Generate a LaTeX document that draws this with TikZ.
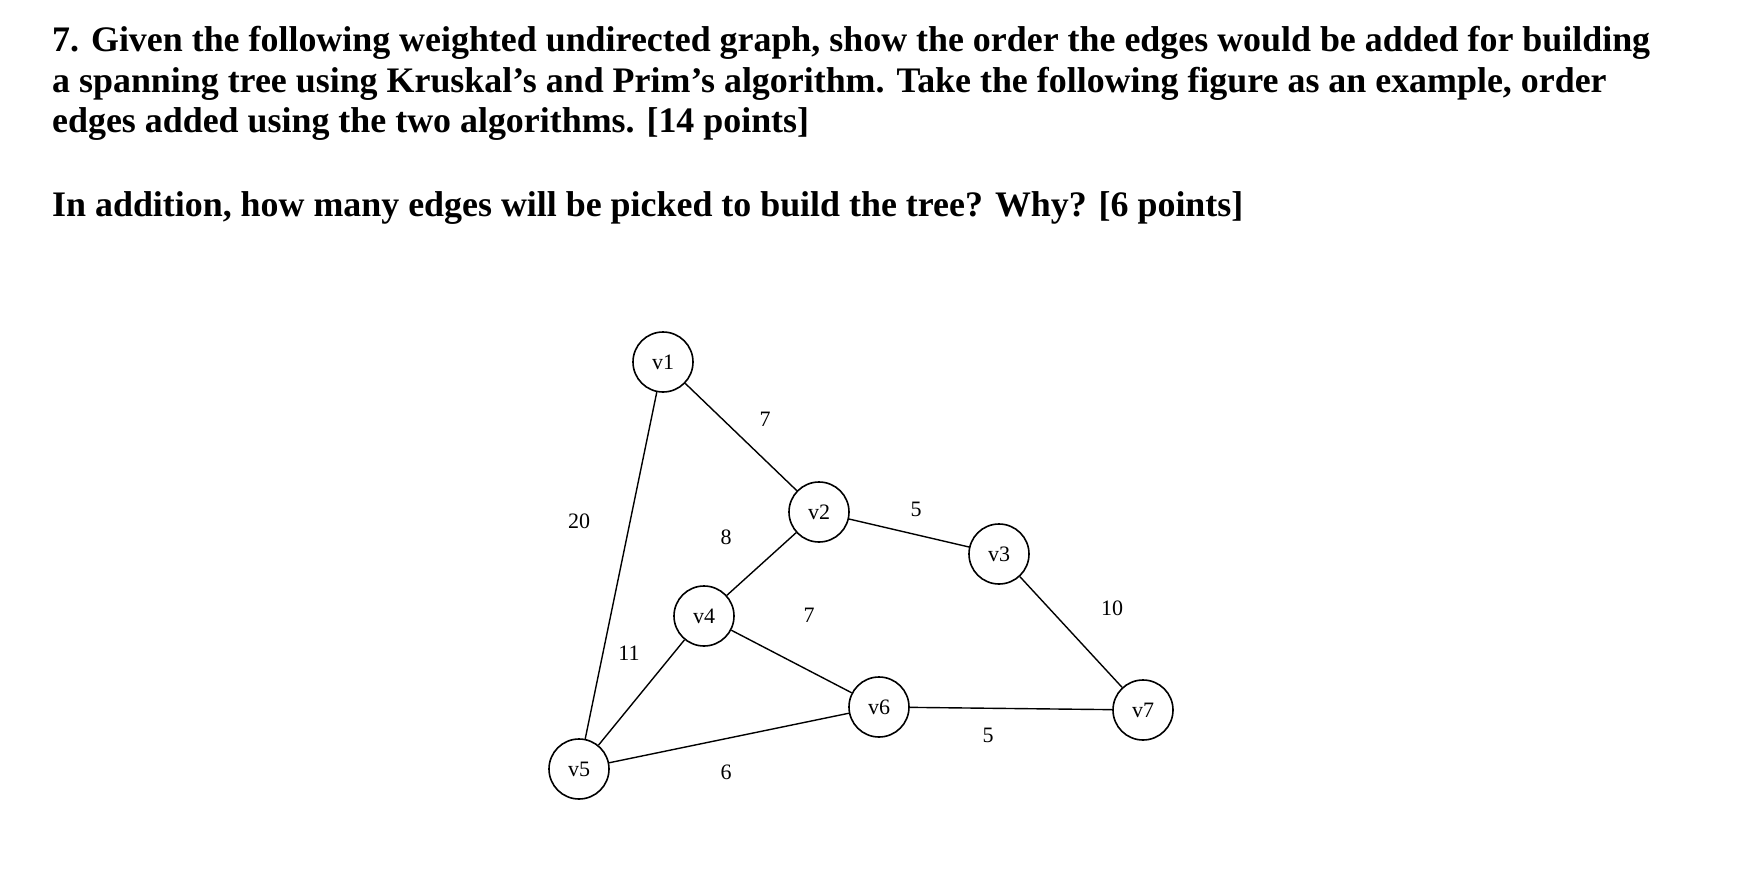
\documentclass[tikz,border=0pt]{standalone}
\usepackage{fontspec}
\setmainfont{Liberation Serif}
\begin{document}
\begin{tikzpicture}[x=1pt,y=-1pt,
  vtx/.style={circle,draw,line width=1.6pt,minimum size=60pt,inner sep=0pt,font=\fontsize{22}{24}\selectfont},
  wt/.style={font=\fontsize{22}{24}\selectfont},
  ttl/.style={anchor=west,inner sep=0pt,font=\bfseries\fontsize{35.9}{40}\selectfont},
  edge/.style={line width=1.4pt}]
\path[use as bounding box] (0,0) rectangle (1746,886);
\node[ttl] (t1) at (52,43) {7. Given the following weighted undirected graph, show the order the edges would be added for building};
\node[ttl] (t2) at (52,84) {a spanning tree using Kruskal’s and Prim’s algorithm. Take the following figure as an example, order};
\node[ttl] (t3) at (52,124) {edges added using the two algorithms. [14 points]};
\node[ttl] (t4) at (52,208) {In addition, how many edges will be picked to build the tree? Why? [6 points]};
\node[vtx] (v1) at (663,362) {v1};
\node[vtx] (v2) at (819,512) {v2};
\node[vtx] (v3) at (999,554) {v3};
\node[vtx] (v4) at (704,616) {v4};
\node[vtx] (v5) at (579,769) {v5};
\node[vtx] (v6) at (879,707) {v6};
\node[vtx] (v7) at (1143,710) {v7};
\draw[edge] (v1) -- (v2);
\draw[edge] (v1) -- (v5);
\draw[edge] (v2) -- (v3);
\draw[edge] (v2) -- (v4);
\draw[edge] (v3) -- (v7);
\draw[edge] (v4) -- (v5);
\draw[edge] (v4) -- (v6);
\draw[edge] (v5) -- (v6);
\draw[edge] (v6) -- (v7);
\node[wt] (w12) at (765,419) {7};
\node[wt] (w15) at (579,521) {20};
\node[wt] (w24) at (726,537) {8};
\node[wt] (w23) at (916,509) {5};
\node[wt] (w46) at (809,615) {7};
\node[wt] (w37) at (1112,608) {10};
\node[wt] (w45) at (629,653) {11};
\node[wt] (w67) at (988,735) {5};
\node[wt] (w56) at (726,772) {6};
\end{tikzpicture}
\end{document}
